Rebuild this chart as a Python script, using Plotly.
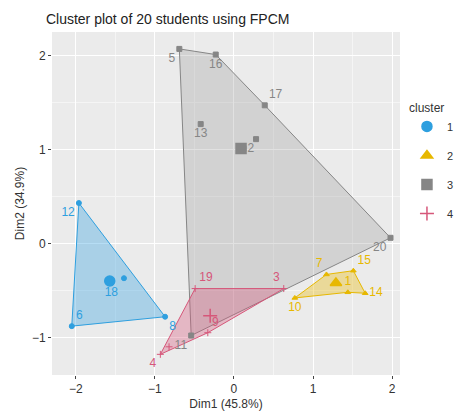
import plotly.graph_objects as go

clusters = ["1", "2", "3", "4"]
colors = ["#2E9FDF", "#E7B800", "#868686", "#D6577A"]
fills = ["rgba(46,159,223,0.35)", "rgba(231,184,0,0.35)", "rgba(134,134,134,0.25)", "rgba(214,87,122,0.35)"]
symbols = ["circle", "triangle-up", "square", "cross-thin"]

# points per cluster: x, y, label
pts_x = {"1": [-1.96, -2.05, -0.87, -1.55, -1.39],
         "2": [1.17, 1.51, 1.66, 0.77, 1.44],
         "3": [-0.69, -0.23, 0.39, -0.42, 0.28, 0.12, 1.98, -0.54],
         "4": [-0.49, 0.63, -0.93, -0.33, -0.82]}
pts_y = {"1": [0.43, -0.88, -0.78, -0.42, -0.37],
         "2": [-0.33, -0.29, -0.53, -0.58, -0.52],
         "3": [2.07, 2.01, 1.47, 1.27, 1.11, 1.01, 0.06, -0.98],
         "4": [-0.48, -0.48, -1.18, -0.95, -1.10]}
pts_lab = {"1": ["12", "6", "8", "18", ""],
           "2": ["7", "15", "14", "10", "1"],
           "3": ["5", "16", "17", "13", "", "2", "20", "11"],
           "4": ["19", "3", "4", "9", ""]}
hulls = {"1": [0, 1, 2], "2": [0, 1, 2, 4, 3], "3": [0, 1, 2, 6, 7], "4": [0, 1, 3, 2]}
centers_x = [-1.57, 1.29, 0.09, -0.30]
centers_y = [-0.40, -0.42, 1.01, -0.77]
lab_pos = {"1": ["bottom left", "top right", "bottom right", "bottom center", "top center"],
           "2": ["top left", "top right", "middle right", "bottom center", "top center"],
           "3": ["bottom left", "bottom center", "top right", "bottom center", "top center", "middle right", "bottom left", "bottom left"],
           "4": ["top right", "top left", "bottom left", "top right", "top center"]}

fig = go.Figure()
for i, c in enumerate(clusters):
    h = hulls[c] + [hulls[c][0]]
    fig.add_trace(go.Scatter(x=[pts_x[c][k] for k in h], y=[pts_y[c][k] for k in h],
                             mode="lines", fill="toself", fillcolor=fills[i],
                             line=dict(color=colors[i], width=1), showlegend=False, hoverinfo="skip"))
for i, c in enumerate(clusters):
    fig.add_trace(go.Scatter(x=pts_x[c], y=pts_y[c], mode="markers+text", text=pts_lab[c],
                             textposition=lab_pos[c], textfont=dict(color=colors[i], size=12),
                             marker=dict(color=colors[i], symbol=symbols[i], size=5,
                                         line=dict(color=colors[i], width=1)),
                             name=c, legendgroup=c, showlegend=False))
    fig.add_trace(go.Scatter(x=[centers_x[i]], y=[centers_y[i]], mode="markers",
                             marker=dict(color=colors[i], symbol=symbols[i], size=10,
                                         line=dict(color=colors[i], width=1.5)),
                             name=c, legendgroup=c, showlegend=True))

fig.update_layout(
    width=474, height=413, margin=dict(l=34, r=82, t=24, b=38),
    plot_bgcolor="#EBEBEB", paper_bgcolor="white",
    font=dict(family="Liberation Sans, Arial", color="#333"),
    title=dict(text="Cluster plot of 20 students using FPCM", x=0.08, y=0.985, font=dict(size=14, color="#222")),
    legend=dict(title=dict(text="cluster", font=dict(size=12)), x=1.02, y=0.62, bgcolor="white", font=dict(size=11)),
    xaxis=dict(title=dict(text="Dim1 (45.8%)", standoff=4, font=dict(size=12)), range=[-2.3, 2.1],
               tickvals=[-2, -1, 0, 1, 2], gridcolor="white", zeroline=False, ticks="outside",
               ticklen=3, minor=dict(dtick=0.5, gridcolor="#F5F5F5", showgrid=True)),
    yaxis=dict(title=dict(text="Dim2 (34.9%)", standoff=4, font=dict(size=12)), range=[-1.4, 2.25],
               tickvals=[-1, 0, 1, 2], gridcolor="white", zeroline=False, ticks="outside",
               ticklen=3, minor=dict(dtick=0.5, gridcolor="#F5F5F5", showgrid=True)),
)
fig.write_html("out.html")
